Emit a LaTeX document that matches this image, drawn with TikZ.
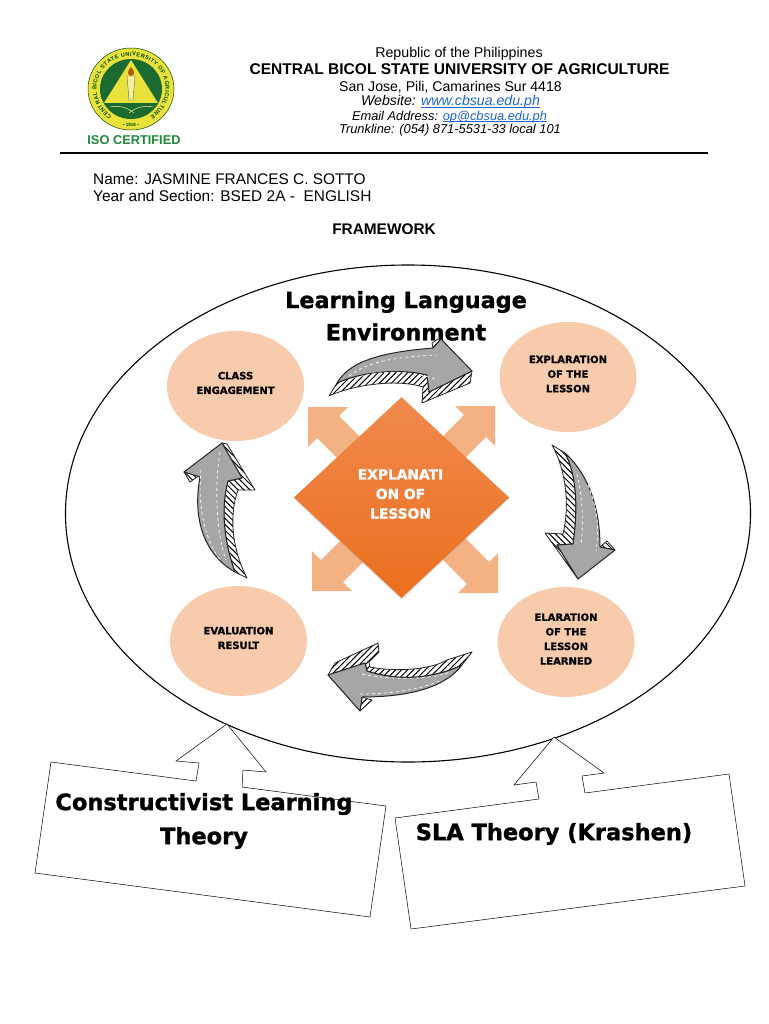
\documentclass[tikz,border=0pt]{standalone}
\usepackage{fontspec}
\usepackage{xcolor}
\usepackage{tikz}
\usetikzlibrary{positioning,patterns.meta,shapes.geometric,decorations.text}
\setmainfont{Liberation Sans}
\newfontfamily\dejafont[BoldFeatures={FakeBold=1.3}]{DejaVu Sans}

\definecolor{peach}{HTML}{F7CBAC}
\definecolor{crossorange}{HTML}{F4B183}
\definecolor{sealgreen}{HTML}{1B6B30}
\definecolor{sealyellow}{HTML}{E9E23C}
\definecolor{isogreen}{HTML}{1F8A3B}
\definecolor{linkblue}{HTML}{1F66C8}
\definecolor{difftop}{HTML}{F08A4E}
\definecolor{diffmid}{HTML}{F47C2A}
\definecolor{diffbot}{HTML}{EB6F1D}

\newcommand{\linktext}[1]{\setbox0\hbox{#1}\textcolor{linkblue}{\rlap{#1}\rule[-1.4pt]{\wd0}{0.6pt}}}

\tikzset{
	head/.style={font=\fontsize{#1}{#1}\selectfont, inner sep=0pt},
	bubble/.style={ellipse, fill=peach, minimum width=137, minimum height=110, inner sep=0pt},
	bubbletext/.style={align=center, inner sep=0pt, font=\dejafont\bfseries\fontsize{10}{14.6}\selectfont},
	bigtext/.style={font=\dejafont\bfseries\fontsize{#1}{#1}\selectfont, inner sep=0pt},
	theorybox/.style={draw, line width=0.5pt, fill=white},
	arrowface/.style={draw=black!85, line width=1pt, fill=black!35, line join=round},
	arrowside/.style={draw=black!85, line width=0.8pt, pattern={Lines[angle=#1,distance=4.2pt,line width=1pt]}, line join=round},
	stitch/.style={white, dashed, line width=0.7pt},
	crossarrow/.style={fill=crossorange}
}

\begin{document}
\begin{tikzpicture}[x=1pt,y=-1pt]
\useasboundingbox (0,0) rectangle (768,1024);
\fill[white] (0,0) rectangle (768,1024);

% seal
\draw[fill=sealyellow, draw=black!70!green, line width=0.5pt] (131,89) ellipse (43 and 41);
\fill[sealgreen] (131,89) ellipse (31 and 30);
\fill[sealyellow] (131,60) -- (158,103) -- (104,103) -- cycle;
\draw[black!60, fill=sealyellow!50!white, line width=0.4pt] (127,76) -- (135,76) -- (133,100) -- (129,100) -- cycle;
\fill[orange!70!black] (131,67) .. controls (127,71) and (127,75) .. (131,76) .. controls (135,75) and (135,71) .. (131,67);
\draw[sealyellow!50!white, line width=0.5pt] (110,107) .. controls (120,105) and (128,108) .. (134,113);
\draw[sealyellow!50!white, line width=0.5pt] (153,107) .. controls (143,105) and (135,108) .. (129,113);
\path[decorate, decoration={text along path, text align=fit to path, text={|\fontsize{5.6}{5.6}\selectfont\bfseries\color{black!70!green}|CENTRAL BICOL STATE UNIVERSITY OF AGRICULTURE}}]
	(111.7,116.4) .. controls (103,110) and (96.5,100) .. (96.5,89) .. controls (96.5,70.8) and (112,56) .. (131,56) .. controls (150,56) and (165.5,70.8) .. (165.5,89) .. controls (165.5,100) and (159,110) .. (150.3,116.4);
\node[head=4.5, text=black!70!green](sealyear) at (131,124.5) {\bfseries • 1918 •};
\node[head=12.8, text=isogreen](iso) at (134,140.5) {\bfseries ISO CERTIFIED};

% letterhead
\node[head=14.2](republic) at (459,54) {Republic of the Philippines};
\node[head=15.55](school) at (459.5,69.5) {\bfseries CENTRAL BICOL STATE UNIVERSITY OF AGRICULTURE};
\node[head=14.1](address) at (450.5,87) {San Jose, Pili, Camarines Sur 4418};
\node[head=14.15, anchor=base](website) at (450.5,106) {\itshape Website: \linktext{www.cbsua.edu.ph}};
\node[head=12.8, anchor=base](email) at (449.5,120.4) {\itshape Email Address: \linktext{op@cbsua.edu.ph}};
\node[head=12.85, anchor=base](trunk) at (450,133.4) {\itshape Trunkline: (054) 871-5531-33 local 101};
\node[head=15.4, anchor=west](name) at (93,179) {Name: JASMINE FRANCES C. SOTTO};
\node[head=15.45, anchor=west](year) at (93,196) {Year and Section: BSED 2A -\ \ ENGLISH};
\node[head=15.4](frame) at (384,229.5) {\bfseries FRAMEWORK};
\draw[line width=1.6pt] (60,153) -- (708,153);

% big ellipse
\draw[line width=1.1pt] (408,513.5) ellipse (342.5 and 248.5);
\node[bigtext=22.3](title) at (406,302) {Learning Language};
\node[bigtext=22.3](title2) at (406,332) {Environment};

% circles
\node[bubble](engage) at (235.5,386) {};
\node[bubble](explar) at (568,377) {};
\node[bubble](evalres) at (238.5,641) {};
\node[bubble](elar) at (566,642) {};
\node[bubbletext](engagetext) at (235.5,383) {CLASS\\ENGAGEMENT};
\node[bubbletext](explartext) at (568,374) {EXPLARATION\\OF THE\\LESSON};
\node[bubbletext](evaltext) at (238.5,638) {EVALUATION\\RESULT};
\node[bubbletext](elartext) at (566,639) {ELARATION\\OF THE\\LESSON\\LEARNED};

% arrows behind the diamond
\foreach \tx/\ty/\sx/\sy in {308/407/1/1,495/406/-1/1,312/591/1/-1,498/593/-1/-1}
	\fill[crossarrow] (\tx,\ty) -- ++(\sx*40,0) -- ++(-\sx*9,\sy*9) -- ++(\sx*50,\sy*50) -- ++(-\sx*22,\sy*22) -- ++(-\sx*50,-\sy*50) -- ++(-\sx*9,\sy*9) -- cycle;

\fill[black!40, opacity=0.35] (401.5,398.5) -- (510,498) -- (401.5,599.5) -- (293,498) -- cycle;
\node[diamond, minimum width=215, minimum height=201, inner sep=0pt, top color=difftop, middle color=diffmid, bottom color=diffbot](centre) at (401.5,497.5) {};
\node[align=center, inner sep=0pt, text=white, font=\dejafont\bfseries\fontsize{13.8}{19.6}\selectfont](centretext) at (400.5,494) {EXPLANATI\\ON OF\\LESSON};

% top arrow
\draw[arrowside=45] (329,396) .. controls (350,386) and (395,378) .. (423,387) -- (422,403) -- (470,383) -- (472,371) -- (429,392) -- (427,375) .. controls (400,368) and (360,372) .. (337,383) -- cycle;
\draw[arrowside=45] (433,348) -- (432,343) -- (438,339) -- (441,339) -- cycle;
\draw[arrowface] (337,383) .. controls (350,360) and (385,352) .. (433,348) -- (441,339) -- (472,371) -- (429,392) -- (427,375) .. controls (400,368) and (360,372) .. (337,383) -- cycle;
\draw[stitch] (349,376) .. controls (370,360) and (400,357) .. (436,355);
\draw[stitch] (355,378) .. controls (380,370) and (410,370) .. (438,380);

% right arrow
\draw[arrowside=-45] (552,445) .. controls (566,470) and (570,505) .. (563,534) -- (545,533) -- (578,579) -- (557,545) -- (573,544) .. controls (578,510) and (577,475) .. (565,453) -- cycle;
\draw[arrowside=-45] (600,547) -- (607,541) -- (615,550) -- cycle;
\draw[arrowface] (565,453) .. controls (587,473) and (600,505) .. (600,547) -- (615,550) -- (578,579) -- (557,545) -- (573,544) .. controls (578,510) and (577,475) .. (565,453) -- cycle;
\draw[stitch] (577,474) .. controls (582,495) and (584,520) .. (581,545);
\draw[stitch] (588,485) .. controls (596,505) and (600,525) .. (596,551);

% bottom arrow
\draw[arrowside=45] (328,675) -- (335,663) -- (378,643) -- (379,652) -- (369,662) -- (370,667) .. controls (395,672) and (430,670) .. (447,660) -- (472,652) -- (462,665) .. controls (435,678) and (400,682) .. (367,671) -- (365,663) -- cycle;
\draw[arrowside=45] (362,697) -- (372,700) -- (360,711) -- cycle;
\draw[arrowface] (328,675) -- (365,663) -- (367,671) .. controls (400,682) and (435,678) .. (462,665) .. controls (447,685) and (415,697) .. (362,697) -- (360,711) -- cycle;
\draw[stitch] (362,674) .. controls (390,680) and (430,680) .. (450,672);
\draw[stitch] (360,694) .. controls (390,694) and (420,690) .. (442,680);

% left arrow
\draw[arrowside=-45] (222,443) -- (227,444) -- (255,490) -- (238,490) .. controls (230,512) and (230,545) .. (247,578) -- (235,572) .. controls (225,545) and (220,510) .. (228,481) -- (242,478) -- cycle;
\draw[arrowside=-45] (184,472) -- (200,475) -- (190,482) -- cycle;
\draw[arrowface] (222,443) -- (242,478) -- (228,481) .. controls (220,510) and (225,545) .. (235,572) .. controls (205,555) and (192,520) .. (200,477) -- (184,472) -- cycle;
\draw[stitch] (220,452) .. controls (215,480) and (215,530) .. (226,560);
\draw[stitch] (201,470) .. controls (198,500) and (202,535) .. (220,560);

% theory boxes
\draw[theorybox] (51,762) -- (196,781) -- (199,763) -- (176,761) -- (227,724) -- (266,772) -- (243,770) -- (242,787) -- (386,806) -- (370,917) -- (35,873) -- cycle;
\draw[theorybox] (395,818) -- (539,799) -- (536,782) -- (514,785) -- (554,737) -- (604,773) -- (582,776) -- (585,793) -- (729,774) -- (745,886) -- (411,929) -- cycle;
\node[bigtext=22.5](constr) at (204,804) {Constructivist Learning};
\node[bigtext=22.5](constr2) at (204,838) {Theory};
\node[bigtext=22.5](sla) at (554,834) {SLA Theory (Krashen)};
\end{tikzpicture}
\end{document}
